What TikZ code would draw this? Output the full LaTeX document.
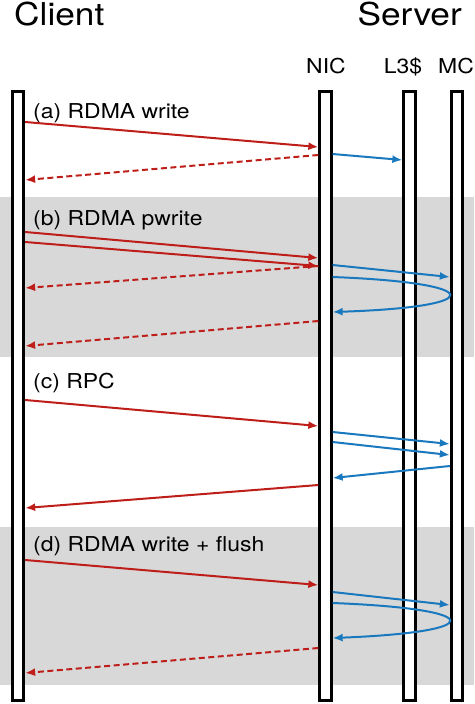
\documentclass[tikz,border=0pt]{standalone}
\usepackage{fontspec}
\setmainfont{TeX Gyre Heros}[FakeStretch=1.12]
\usepackage{tikz}
\usetikzlibrary{positioning, arrows.meta, calc}
\definecolor{msgred}{RGB}{190, 30, 25}
\definecolor{msgblue}{RGB}{25, 120, 190}
\definecolor{bandgray}{RGB}{216, 216, 216}

\begin{document}
\begin{tikzpicture}[>={Latex[length=10pt, width=8pt]}, x=1pt, y=-1pt,
    lifeline/.style={draw, fill=white, line width=2.8pt, minimum width=11.5pt,
        minimum height=609pt, anchor=north, inner sep=0pt},
    req/.style={->, line width=2pt, msgred},
    ack/.style={->, line width=2pt, msgred, dash pattern=on 6pt off 3.5pt},
    mem/.style={->, line width=2pt, msgblue},
    caselabel/.style={anchor=base west, inner sep=0pt, font=\fontsize{20.5}{24}\selectfont},
    partlabel/.style={anchor=base, inner sep=0pt, font=\fontsize{20.5}{24}\selectfont}]
\useasboundingbox (0,0) rectangle (474,704);
\fill[bandgray] (0,197) rectangle (474,357);
\fill[bandgray] (0,527) rectangle (474,685);

\node[anchor=base west, inner sep=0pt, font=\fontsize{31.5}{36}\selectfont] (clientname) at (14,25) {Client};
\node[anchor=base east, inner sep=0pt, font=\fontsize{31.5}{36}\selectfont] (servername) at (462,25) {Server};

\node[lifeline] (client) at (18,90.4) {};
\node[lifeline] (nic) at (325.5,90.4) {};
\node[lifeline] (l3) at (409.5,90.4) {};
\node[lifeline] (mc) at (457,90.4) {};

\node[partlabel] (niclabel) at (326,73) {NIC};
\node[partlabel] (l3label) at (403,73) {L3\$};
\node[partlabel, anchor=base west] (mclabel) at (438,73) {MC};

\begin{scope}
    \node[caselabel] (casea) at (33,118) {(a) RDMA write};
    \draw[req] (client.east |- 0,122) -- (nic.west |- 0,147);
    \draw[ack] (nic.west |- 0,155) -- (client.east |- 0,180);
    \draw[mem] (nic.east |- 0,154) -- (l3.west |- 0,160);
\end{scope}
\begin{scope}
    \node[caselabel] (caseb) at (33,225) {(b) RDMA pwrite};
    \draw[req] (client.east |- 0,232) -- (nic.west |- 0,258);
    \draw[req] (client.east |- 0,242) -- (nic.west |- 0,266);
    \draw[ack] (nic.west |- 0,266) -- (client.east |- 0,288);
    \draw[ack] (nic.west |- 0,321) -- (client.east |- 0,346);
    \draw[mem] (nic.east |- 0,265) -- (mc.west |- 0,277);
    \draw[mem] (nic.east |- 0,277) .. controls (488,283) and (488,307) .. (nic.east |- 0,312);
\end{scope}
\begin{scope}
    \node[caselabel] (casec) at (33,388) {(c) RPC};
    \draw[req] (client.east |- 0,400) -- (nic.west |- 0,426);
    \draw[mem] (nic.east |- 0,432) -- (mc.west |- 0,444);
    \draw[mem] (nic.east |- 0,442) -- (mc.west |- 0,455);
    \draw[mem] (mc.west |- 0,466) -- (nic.east |- 0,478);
    \draw[req] (nic.west |- 0,485) -- (client.east |- 0,508);
\end{scope}
\begin{scope}
    \node[caselabel] (cased) at (33,551) {(d) RDMA write + flush};
    \draw[req] (client.east |- 0,560) -- (nic.west |- 0,585);
    \draw[mem] (nic.east |- 0,592) -- (mc.west |- 0,605);
    \draw[mem] (nic.east |- 0,603) .. controls (488,609) and (488,632) .. (nic.east |- 0,638);
    \draw[ack] (nic.west |- 0,648) -- (client.east |- 0,673);
\end{scope}
\end{tikzpicture}
\end{document}
